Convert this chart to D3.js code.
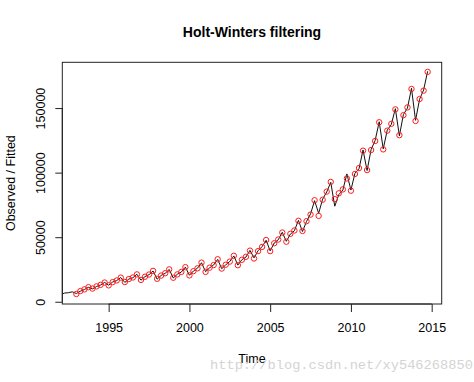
<!DOCTYPE html>
<html lang="en">
<head>
    <meta charset="utf-8">
    <title>Holt-Winters filtering</title>
    <script src="https://cdn.jsdelivr.net/npm/d3@7"></script>
    <style>
        body { margin: 0; background: #fff; }
        text { font-family: "Liberation Sans", Arial, sans-serif; fill: #000; }
    </style>
</head>
<body>
    <div id="chart"></div>
    <script>
        // quarterly series, observed starts 1992 Q1, fitted starts 1993 Q1
        var obsStart = 1992, fitStart = 1993;
        var observed = [
            5200, 6700, 7000, 7700,
            6400, 8200, 9500, 11200,
            10000, 11800, 13000, 15000,
            12800, 15300, 16400, 18800,
            15000, 17600, 18600, 21300,
            16700, 19500, 21000, 23800,
            17500, 20400, 22000, 25000,
            18400, 21300, 23000, 26800,
            20500, 23800, 26000, 30200,
            23300, 26300, 28500, 32800,
            25600, 28600, 31200, 35500,
            28400, 32600, 34600, 39800,
            34000, 39500, 42700, 47600,
            39400, 45500, 48000, 53800,
            46800, 52400, 55000, 63000,
            54400, 62200, 68000, 78300,
            68500, 79500, 85000, 92500,
            74000, 83000, 86500, 99000,
            86500, 99500, 103000, 117500,
            101600, 117900, 124900, 139400,
            118400, 132900, 137300, 149500,
            128500, 145000, 150000, 165300,
            140500, 156800, 164000, 178500
        ];
        var fitted = [
            6000, 8300, 9600, 11300,
            10200, 11900, 13100, 14900,
            12700, 15200, 16500, 18700,
            15300, 17600, 18800, 21200,
            16900, 19400, 21100, 23900,
            17800, 20300, 22100, 25100,
            18600, 21200, 23100, 26800,
            20400, 23700, 25900, 30300,
            23100, 26400, 28400, 32900,
            25700, 28700, 31100, 35600,
            28300, 32500, 34800, 39600,
            33500, 39200, 42500, 47800,
            39200, 45300, 48200, 53600,
            46500, 52600, 55200, 62700,
            54800, 62400, 67500, 78600,
            66500, 79000, 85300, 92800,
            79500, 84000, 87000, 95500,
            86000, 99000, 103500, 117000,
            102000, 117500, 124500, 139000,
            118000, 132500, 137800, 149000,
            129000, 144500, 150500, 164800,
            140000, 157000, 163500, 178000
        ];
        var xTicks = [1995, 2000, 2005, 2010, 2015];
        var yTicks = [0, 50000, 100000, 150000];
        var title = "Holt-Winters filtering", xTitle = "Time", yTitle = "Observed / Fitted";
        var watermark = "http://blog.csdn.net/xy546268850";

        var width = 474, height = 382,
            box = {left: 62.3, right: 441.7, top: 62.3, bottom: 304};

        var obsData = observed.map(function (v, i) { return {t: obsStart + i / 4, v: v}; });
        var fitData = fitted.map(function (v, i) { return {t: fitStart + i / 4, v: v}; });

        // R style limits: data range plus 4% on each side
        function rlim(a, b) { var d = (b - a) * 0.04; return [a - d, b + d]; }
        var tExt = d3.extent(fitData, function (d) { return d.t; });
        var vExt = d3.extent(observed.concat(fitted));

        var x = d3.scaleLinear().domain(rlim(tExt[0], tExt[1])).range([box.left, box.right]);
        var y = d3.scaleLinear().domain(rlim(vExt[0], vExt[1])).range([box.bottom, box.top]);

        var svg = d3.select("#chart").append("svg").attr("width", width).attr("height", height);

        svg.append("clipPath").attr("id", "plotClip").append("rect")
            .attr("x", box.left).attr("y", box.top)
            .attr("width", box.right - box.left).attr("height", box.bottom - box.top);

        var plot = svg.append("g").attr("clip-path", "url(#plotClip)");

        var line = d3.line().x(function (d) { return x(d.t); }).y(function (d) { return y(d.v); });

        plot.append("path").datum(obsData).attr("d", line)
            .attr("fill", "none").attr("stroke", "#111").attr("stroke-width", 1);

        plot.selectAll(".fit").data(fitData).enter().append("circle")
            .attr("class", "fit")
            .attr("cx", function (d) { return x(d.t); })
            .attr("cy", function (d) { return y(d.v); })
            .attr("r", 2.7)
            .attr("fill", "none").attr("stroke", "#ff1a1a").attr("stroke-width", 1);

        // frame
        svg.append("rect")
            .attr("x", box.left).attr("y", box.top)
            .attr("width", box.right - box.left).attr("height", box.bottom - box.top)
            .attr("fill", "none").attr("stroke", "#222").attr("stroke-width", 1);

        // axes
        var xAxis = svg.append("g").attr("transform", "translate(0," + box.bottom + ")")
            .call(d3.axisBottom(x).tickValues(xTicks).tickSize(8).tickSizeOuter(0).tickFormat(d3.format("d")));
        xAxis.select(".domain").attr("d", "M" + x(xTicks[0]) + ",0H" + x(xTicks[xTicks.length - 1])).attr("stroke", "#222");
        xAxis.selectAll(".tick line").attr("stroke", "#222");
        xAxis.selectAll(".tick text").attr("y", 28.3).attr("dy", 0)
            .style("font-size", "12.5px").style("font-family", "Liberation Sans, Arial, sans-serif").attr("fill", "#000");

        var yAxis = svg.append("g").attr("transform", "translate(" + box.left + ",0)")
            .call(d3.axisLeft(y).tickValues(yTicks).tickSize(7).tickSizeOuter(0).tickFormat(d3.format("d")));
        yAxis.select(".domain").attr("d", "M0," + y(yTicks[0]) + "V" + y(yTicks[yTicks.length - 1])).attr("stroke", "#222");
        yAxis.selectAll(".tick line").attr("stroke", "#222");
        yAxis.selectAll(".tick text").attr("x", 0).attr("dy", 0)
            .attr("transform", "translate(-17.5,0) rotate(-90)")
            .attr("text-anchor", "middle")
            .style("font-size", "12.5px").style("font-family", "Liberation Sans, Arial, sans-serif").attr("fill", "#000");

        // titles
        var cx = (box.left + box.right) / 2, cy = (box.top + box.bottom) / 2;
        svg.append("text").attr("x", cx).attr("y", 37).attr("text-anchor", "middle")
            .style("font-size", "14px").style("font-weight", "bold").text(title);
        svg.append("text").attr("x", cx).attr("y", 362.5).attr("text-anchor", "middle")
            .style("font-size", "12.5px").text(xTitle);
        svg.append("text").attr("transform", "translate(14.5," + cy + ") rotate(-90)")
            .attr("text-anchor", "middle").style("font-size", "12.5px").text(yTitle);

        // blog watermark
        svg.append("text").attr("x", 210).attr("y", 369)
            .style("font-family", "Liberation Mono, DejaVu Sans Mono, monospace")
            .style("font-size", "13.7px").style("fill", "#d4d4d4").text(watermark);
    </script>
</body>
</html>
